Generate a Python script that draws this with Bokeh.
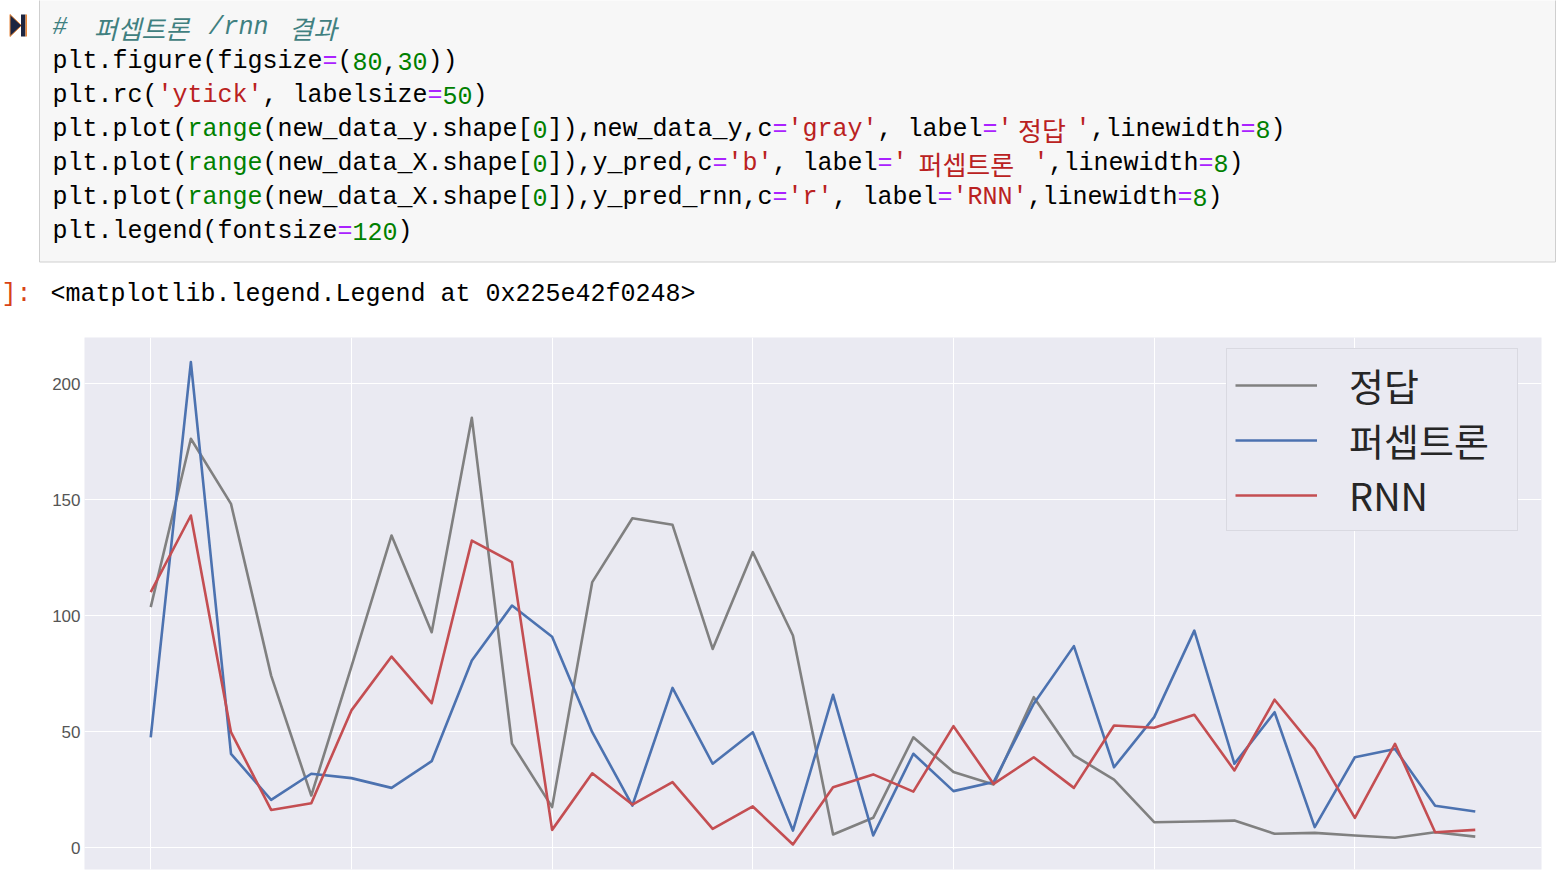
from bokeh.plotting import figure
from bokeh.models import Range1d, FixedTicker, Legend, LegendItem, ColumnDataSource
from bokeh.core.properties import value
from bokeh.embed import file_html
from bokeh.resources import INLINE

# ---------------- chart data ----------------
x_index = list(range(34))
truth = [103.6, 176.2, 148.1, 74.1, 22.4, 78.0, 134.5, 92.8, 185.2, 44.8,
         17.4, 114.4, 141.9, 139.1, 85.6, 127.3, 91.4, 5.6, 12.8, 47.5,
         32.5, 27.2, 64.8, 39.7, 29.3, 10.9, 11.2, 11.6, 5.9, 6.3,
         5.2, 4.2, 6.6, 4.7]
perceptron = [47.5, 209.2, 40.4, 20.5, 31.8, 29.9, 25.7, 37.2, 80.6, 104.3,
              90.8, 49.7, 18.1, 68.8, 36.1, 49.7, 7.3, 65.8, 5.2, 40.4,
              24.3, 28.2, 62.0, 86.8, 34.6, 56.2, 93.5, 36.1, 58.3, 8.8,
              38.9, 42.5, 18.0, 15.5]
rnn = [110.1, 143.1, 49.7, 16.2, 19.1, 59.1, 82.3, 62.2, 132.3, 123.0,
       7.6, 32.0, 18.5, 28.2, 8.0, 17.7, 1.3, 26.0, 31.5, 24.1,
       52.3, 27.4, 38.9, 25.7, 52.6, 51.6, 57.2, 33.2, 63.7, 42.5,
       12.8, 44.7, 6.6, 7.6]
series_labels = ["정답", "퍼셉트론", "RNN"]
series_colors = ["#808080", "#4C72B0", "#C44E52"]
x_ticks = [0, 5, 10, 15, 20, 25, 30]
y_ticks = [0, 50, 100, 150, 200]

# ---------------- notebook cell text ----------------
TXT, KW, NUM, STR, OP, COM = "#000000", "#008000", "#008000", "#BA2121", "#AA22FF", "#408080"
code_lines = [
    [("# ", COM), ("퍼셉트론", COM), ("/rnn ", COM), ("결과", COM)],
    [("plt.figure(figsize", TXT), ("=", OP), ("(", TXT), ("80", NUM), (",", TXT), ("30", NUM), ("))", TXT)],
    [("plt.rc(", TXT), ("'ytick'", STR), (", labelsize", TXT), ("=", OP), ("50", NUM), (")", TXT)],
    [("plt.plot(", TXT), ("range", KW), ("(new_data_y.shape[", TXT), ("0", NUM), ("]),new_data_y,c", TXT),
     ("=", OP), ("'gray'", STR), (", label", TXT), ("=", OP), ("'", STR), ("정답", STR), ("'", STR),
     (",linewidth", TXT), ("=", OP), ("8", NUM), (")", TXT)],
    [("plt.plot(", TXT), ("range", KW), ("(new_data_X.shape[", TXT), ("0", NUM), ("]),y_pred,c", TXT),
     ("=", OP), ("'b'", STR), (", label", TXT), ("=", OP), ("'", STR), ("퍼셉트론", STR), ("'", STR),
     (",linewidth", TXT), ("=", OP), ("8", NUM), (")", TXT)],
    [("plt.plot(", TXT), ("range", KW), ("(new_data_X.shape[", TXT), ("0", NUM), ("]),y_pred_rnn,c", TXT),
     ("=", OP), ("'r'", STR), (", label", TXT), ("=", OP), ("'RNN'", STR),
     (",linewidth", TXT), ("=", OP), ("8", NUM), (")", TXT)],
    [("plt.legend(fontsize", TXT), ("=", OP), ("120", NUM), (")", TXT)],
]
output_prompt = "]:"
output_text = "<matplotlib.legend.Legend at 0x225e42f0248>"

# layout constants (page pixel coordinates of the screenshot)
W = 1565
TOP_H = 320
CODE_X0 = 52
BASE0 = 26.5
LINE_STEP = 34.0
OUT_BASE = 294
ADV = 15.0
KADV = 31.5
KSIZE = 26
MONO = "Liberation Mono"
KFONT = "Noto Sans CJK KR"


def is_korean(s):
    return any(ord(c) >= 0x1100 for c in s)


# ---------------- top figure: code cell ----------------
top = figure(width=W, height=TOP_H, output_backend="svg", toolbar_location=None,
             x_range=Range1d(0, W), y_range=Range1d(TOP_H, 0),
             x_axis_location=None, y_axis_location=None,
             min_border=0, outline_line_color=None)
top.grid.visible = False
top.background_fill_color = "white"
top.border_fill_color = "white"

# code cell box
top.quad(left=[39], right=[1555], top=[-5], bottom=[261.5],
         fill_color="#f7f7f7", line_color="#cfcfcf", line_width=1)

# run icon
top.patch(x=[9.5, 21, 9.5], y=[14, 25, 36], fill_color="#1c2541", line_color="#e8873a", line_width=1)
top.quad(left=[20.5], right=[25], top=[14], bottom=[36], fill_color="#1c2541", line_color=None)
top.quad(left=[25], right=[26.5], top=[14], bottom=[36], fill_color="#e8873a", line_color=None)

groups = {}
for li, tokens in enumerate(code_lines):
    base = BASE0 + li * LINE_STEP
    italic = li == 0
    x = CODE_X0
    for txt, col in tokens:
        if is_korean(txt):
            span = KADV * len(txt)
            key = ("k", italic)
            xd = x + (span - KSIZE * len(txt)) / 2.0
            x += span
        else:
            key = ("m", italic)
            xd = x
            x += ADV * len(txt)
        g = groups.setdefault(key, {"x": [], "y": [], "text": [], "color": []})
        g["x"].append(xd)
        g["y"].append(base)
        g["text"].append(txt)
        g["color"].append(col)

for (kind, italic), g in groups.items():
    top.text(x="x", y="y", text="text", text_color="color", source=ColumnDataSource(g),
             text_font=value(KFONT if kind == "k" else MONO),
             text_font_size=value(f"{KSIZE}px" if kind == "k" else "25px"),
             text_font_style="italic" if italic else "normal",
             text_baseline="alphabetic", text_align="left")

top.text(x=[31], y=[OUT_BASE], text=[output_prompt], text_color="#D84315",
         text_font=value(MONO), text_font_size=value("25px"),
         text_baseline="alphabetic", text_align="right")
top.text(x=[50], y=[OUT_BASE], text=[output_text], text_color="#000000",
         text_font=value(MONO), text_font_size=value("25px"),
         text_baseline="alphabetic", text_align="left")

# ---------------- chart figure ----------------
CH_H = 555
p = figure(width=W, height=CH_H, output_backend="svg", toolbar_location=None,
           x_range=Range1d(-1.65, 34.65), y_range=Range1d(-9.48, 219.83),
           min_border_left=84, min_border_right=W - 1541, min_border_top=17, min_border_bottom=6)
p.background_fill_color = "#EAEAF2"
p.border_fill_color = "white"
p.outline_line_color = None

xt = FixedTicker(ticks=x_ticks)
yt = FixedTicker(ticks=y_ticks)
p.xaxis.ticker = xt
p.xgrid.ticker = xt
p.yaxis.ticker = yt
p.ygrid.ticker = yt
p.xaxis.visible = False
p.grid.grid_line_color = "white"
p.grid.grid_line_width = 1
p.yaxis.axis_line_color = None
p.yaxis.major_tick_line_color = None
p.yaxis.minor_tick_line_color = None
p.yaxis.major_tick_out = 0
p.yaxis.major_tick_in = 0
p.yaxis.major_label_standoff = 4
p.yaxis.major_label_text_font = "Liberation Sans"
p.yaxis.major_label_text_font_size = "17px"
p.yaxis.major_label_text_color = "#555555"

renderers = []
for ys, colr in zip([truth, perceptron, rnn], series_colors):
    r = p.line(x=x_index, y=ys, line_color=colr, line_width=2.6, line_join="round")
    renderers.append(r)

legend = Legend(items=[LegendItem(label=lab, renderers=[r]) for lab, r in zip(series_labels, renderers)],
                location=(1142, 338), padding=8, spacing=0,
                glyph_width=82, glyph_height=54, label_height=54, label_width=160, label_standoff=32,
                label_text_font=KFONT, label_text_font_size="38px", label_text_color="#262626",
                background_fill_color="#EAEAF2", background_fill_alpha=1.0,
                border_line_color="#d4d4dc", border_line_width=1, border_line_alpha=0.8,
                margin=0)
p.add_layout(legend, "center")

open("out.html", "w").write(file_html([top, p], INLINE))
